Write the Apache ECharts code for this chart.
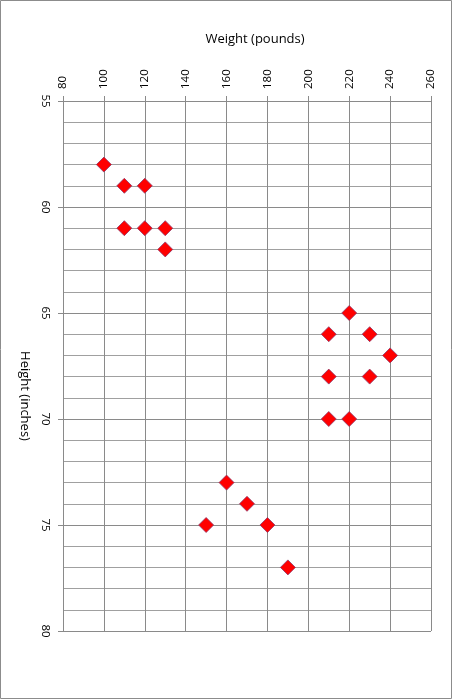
<!DOCTYPE html>
<html>
<head>
<meta charset="utf-8">
<script src="https://cdn.jsdelivr.net/npm/echarts@6/dist/echarts.min.js"></script>
<style>
  html, body { margin: 0; padding: 0; background: #fff; }
  #chart { width: 452px; height: 699px; }
</style>
</head>
<body>
<div id="chart"></div>
<script>
// weight (pounds) and height (inches) of each person
const weights = [100, 110, 120, 110, 120, 130, 130, 220, 210, 230, 240, 210, 230, 210, 220, 160, 170, 150, 180, 190];
const heights = [58, 59, 59, 61, 61, 61, 62, 65, 66, 66, 67, 68, 68, 70, 70, 73, 74, 75, 75, 77];

const xTitle = "Weight (pounds)";
const yTitle = "Height (inches)";

const chart = echarts.init(document.getElementById("chart"), null, { renderer: "canvas" });

const font = "Open Sans";
const gridColor = "#8a8a8a";

const option = {
  backgroundColor: "#fff",
  animation: false,
  grid: { left: 63, top: 101, width: 368, height: 530 },
  graphic: [
    {
      type: "rect",
      shape: { x: 0.5, y: 0.5, width: 451, height: 698 },
      style: { fill: "none", stroke: "#8c8c8c", lineWidth: 1 },
      silent: true,
    },
    {
      type: "text",
      x: 255,
      y: 39,
      style: { text: xTitle, fontFamily: font, fontSize: 13, fill: "#000", align: "center", verticalAlign: "middle" },
    },
    {
      type: "text",
      x: 25,
      y: 396,
      rotation: -Math.PI / 2,
      style: { text: yTitle, fontFamily: font, fontSize: 13, fill: "#000", align: "center", verticalAlign: "middle" },
    },
  ],
  xAxis: {
    type: "value",
    position: "top",
    min: 80,
    max: 260,
    interval: 20,
    axisLine: { show: true, lineStyle: { color: gridColor } },
    axisTick: { show: true, inside: false, length: 5, lineStyle: { color: gridColor } },
    axisLabel: { rotate: -90, margin: 12, fontFamily: font, fontSize: 11.5, color: "#000" },
    splitLine: { show: true, lineStyle: { color: gridColor, width: 1 } },
  },
  yAxis: {
    type: "value",
    inverse: true,
    min: 55,
    max: 80,
    interval: 5,
    axisLine: { show: true, lineStyle: { color: gridColor } },
    axisTick: { show: true, inside: false, length: 5, lineStyle: { color: gridColor } },
    axisLabel: { rotate: -90, margin: 12, fontFamily: font, fontSize: 11.5, color: "#000" },
    splitLine: { show: true, lineStyle: { color: gridColor, width: 1 } },
    minorTick: { show: false, splitNumber: 5 },
    minorSplitLine: { show: true, lineStyle: { color: "#a0a0a0", width: 1 } },
  },
  series: [
    {
      type: "scatter",
      symbol: "diamond",
      symbolSize: 15,
      data: weights.map((w, i) => [w, heights[i]]),
      itemStyle: { color: "#ff0000", borderColor: "#8b3a6b", borderWidth: 0.8, opacity: 1 },
    },
  ],
};

chart.setOption(option);
</script>
</body>
</html>
